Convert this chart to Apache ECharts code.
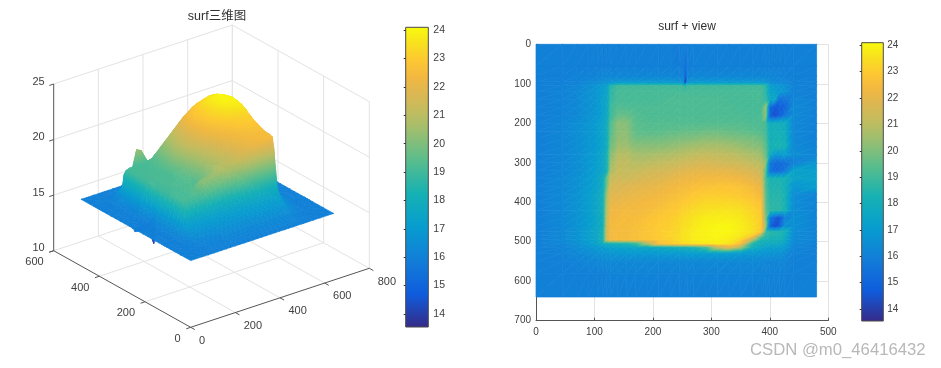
<!DOCTYPE html>
<html>
<head>
<meta charset="utf-8">
<style>
  html, body { margin: 0; padding: 0; background: #fff; }
  #box1 { width: 941px; height: 368px; }
</style>
<script src="https://cdn.jsdelivr.net/npm/echarts@6/dist/echarts.min.js"></script>
</head>
<body>
<div id="box1"></div>
<script>
// cell edges (image columns / rows)
var colEdges = [0,30,60,80,100,110,118,124,130,150,160,180,200,220,240,250,253,257,260,280,300,320,340,360,380,390,396,404,412,420,430,450,480];
var rowEdges = [0,40,70,90,100,110,130,150,170,190,210,230,250,270,290,310,330,350,370,390,410,430,450,470,480,490,500,510,520,540,560,600,640];

// temperature per cell, one line per row
var temps = [
  [16,16,16,16,16,16,16,16, 16,16,16,16,16,16,15.8, 16,16,16, 16,16,16,16,16,16,16, 16,16,16,16,16,16,16],
  [16,16,16,16,16,16,16,16, 16,16,16,16,16,16,15.9, 15.9,15.4,15.9, 16,16,16,16,16,16,16, 16,16,16,16,16,16,16],
  [16,16,16.1,16.1,16.1,16.2,16.2,16.2, 16.2,16.2,16.2,16.2,16.2,16.2,16.1, 16.1,15,16.1, 16.2,16.2,16.2,16.2,16.2,16.2,16.2, 16.2,16.2,16.2,16.1,16.1,16,16],
  [16,16,16.1,16.3,16.4,16.5,16.6,16.7, 16.8,16.8,16.8,16.8,16.8,16.8,16.7, 16.6,14,16.6, 16.8,16.8,16.8,16.8,16.8,16.8,16.8, 16.6,16.4,16.3,16.2,16.2,16,16],
  [16,16.1,16.2,16.5,16.8,17,17.3,18.4, 19,19,19,19,19,19,19, 18.9,18.6,18.9, 19,19,19,19,19,19,19, 18.6,17.2,17,16.8,16.6,16.1,16],
  [16,16.1,16.3,16.6,16.9,17.1,17.4,18.6, 19.1,19.1,19.1,19.1,19.1,19.1,19.1, 19.1,19.1,19.1, 19.1,19.1,19.1,19.1,19.1,19.1,19.1, 18.6,17.4,17.2,17,16.8,16.1,16],
  [16,16.1,16.3,16.6,16.9,17.2,17.5,18.7, 19.1,19.1,19.1,19.1,19.1,19.2,19.2, 19.2,19.2,19.2, 19.2,19.2,19.2,19.1,19.1,19.1,19.1, 18.8,17.6,17.6,15.4,15.6,16.2,16],
  [16,16.1,16.3,16.6,16.9,17.2,17.6,18.9, 19.3,19.2,19.2,19.2,19.2,19.2,19.2, 19.2,19.2,19.2, 19.2,19.2,19.2,19.2,19.1,19.1,19.1, 20.4,15.2,14.6,14.8,15,16.4,16],
  [16,16.1,16.3,16.6,16.9,17.2,17.6,18.9, 19.6,19.6,19.3,19.2,19.2,19.2,19.2, 19.2,19.2,19.2, 19.2,19.2,19.2,19.2,19.2,19.1,19.2, 20.2,15,14.4,14.8,15.6,16.4,16],
  [16,16.2,16.5,16.8,17.1,17.4,17.9,19.2, 20.2,20.1,19.4,19.3,19.3,19.3,19.3, 19.3,19.3,19.3, 19.3,19.3,19.3,19.3,19.3,19.2,19.2, 19,17.9,18,18,17.9,16.3,16],
  [16,16.2,16.5,16.8,17.1,17.4,17.9,19.3, 20.2,20.2,19.5,19.4,19.4,19.5,19.5, 19.6,19.6,19.6, 19.6,19.7,19.7,19.6,19.5,19.4,19.3, 19,18,18.1,18.1,18,16.3,16],
  [16,16.2,16.5,16.8,17.1,17.4,17.9,19.5, 20.3,20.3,19.8,19.8,19.8,19.9,20, 20,20,20, 20.1,20.2,20.2,20.1,20,19.9,19.7, 19.2,18.1,18.2,18.2,18.1,16.3,16],
  [16,16.2,16.5,16.8,17.1,17.4,17.9,19.7, 20.5,20.5,20.2,20.2,20.2,20.3,20.4, 20.5,20.5,20.5, 20.6,20.7,20.7,20.6,20.4,20.2,20.1, 19.4,18.2,18.3,18.3,18.2,16.4,16.1],
  [16,16.2,16.5,16.9,17.2,17.5,18.2,20, 20.9,20.9,20.6,20.6,20.7,20.8,20.9, 21,21,21, 21.1,21.2,21.1,21.1,20.9,20.7,20.5, 19.6,17.8,17,16.8,17.2,16.5,16.2],
  [16,16.2,16.5,16.9,17.2,17.5,18.2,20.3, 21.1,21.1,20.9,21,21.1,21.2,21.3, 21.4,21.4,21.4, 21.5,21.6,21.5,21.4,21.3,21.1,20.9, 20.2,15.8,15.3,15.2,15.4,16,16.8],
  [16,16.2,16.5,16.9,17.2,17.5,18.2,20.6, 21.2,21.2,21.2,21.4,21.5,21.6,21.8, 21.9,21.9,21.9, 22,22,22,22,21.8,21.6,21.3, 19.4,15.6,15.1,15.2,15.6,17.3,17.2],
  [16,16.3,16.6,17,17.4,17.8,19.6,21.2, 21.4,21.4,21.5,21.7,21.8,22,22.1, 22.2,22.2,22.2, 22.3,22.4,22.4,22.4,22.3,22,21.7, 19.2,18.3,18.3,18.3,18.2,17.4,17.3],
  [16,16.3,16.6,17,17.4,17.8,19.8,21.6, 21.7,21.8,21.9,22,22.1,22.3,22.4, 22.5,22.5,22.5, 22.6,22.7,22.8,22.8,22.7,22.5,22.1, 19.2,18.4,18.4,18.4,18.2,16.8,17.2],
  [16,16.3,16.7,17.1,17.6,18,20.5,21.8, 21.9,22,22.1,22.2,22.3,22.5,22.6, 22.7,22.7,22.7, 22.9,23,23,23,22.9,22.7,22.4, 19.4,18.5,18.5,18.5,18.3,16.5,16.1],
  [16,16.3,16.7,17.1,17.6,18,20.8,22, 22.1,22.2,22.3,22.4,22.5,22.7,22.8, 23,23,23, 23.1,23.3,23.3,23.3,23.2,23,22.7, 19.4,18.6,18.6,18.6,18.3,16.5,16.1],
  [16,16.3,16.7,17.1,17.6,18,21,22.2, 22.3,22.4,22.4,22.5,22.7,22.9,23, 23.2,23.2,23.2, 23.4,23.5,23.6,23.6,23.5,23.2,22.9, 19.5,18.7,18.6,18.6,18.3,16.5,16.1],
  [16,16.3,16.7,17.1,17.6,18,21.2,22.3, 22.4,22.5,22.5,22.7,22.9,23,23.2, 23.4,23.4,23.4, 23.6,23.8,23.8,23.8,23.7,23.4,23, 20,15.8,15,14.5,16,16.6,16.1],
  [16,16.3,16.7,17.1,17.6,18,21.4,22.4, 22.5,22.5,22.6,22.8,23,23.1,23.3, 23.5,23.5,23.5, 23.7,23.9,24,24,23.8,23.5,23, 20.5,15.2,14.4,14.8,16.6,16.6,16.1],
  [16,16.3,16.7,17.2,17.6,18.2,21.5,22.4, 22.5,22.5,22.6,22.8,23,23.2,23.3, 23.6,23.6,23.6, 23.8,23.9,24,24,23.8,23.5,22.8, 19,18.6,18.5,18.4,18.2,16.5,16.1],
  [16,16.3,16.7,17.2,17.6,18.2,21.5,22.4, 22.5,22.5,22.6,22.8,23,23.2,23.4, 23.6,23.6,23.6, 23.8,23.9,24,23.9,23.7,23,20, 18.6,18.4,18.3,18.3,18,16.4,16.1],
  [16,16.3,16.7,17.2,17.6,18.2,21.5,22.4, 22.5,22.5,22.6,22.8,23,23.1,23.4, 23.6,23.6,23.6, 23.8,23.9,23.9,23.8,23.3,21,18.4, 18.3,18.2,18.2,18.1,17.8,16.4,16.1],
  [16,16.2,16.6,17,17.4,17.7,17.9,18, 18.2,18.3,18.8,20.7,22.6,23,23.2, 23.4,23.4,23.4, 23.6,23.7,23.8,23.6,22.6,18.6,18, 17.8,17.8,17.7,17.7,17.4,16.3,16],
  [16,16.1,16.4,16.7,16.9,17,17.2,17.3, 17.4,17.4,17.5,17.5,17.6,17.8,18, 18,18,18, 18.3,19,21,21.8,20.5,18,17.6, 17.3,17.2,17.2,17.1,17,16.2,16],
  [16,16.1,16.3,16.4,16.6,16.7,16.7,16.8, 16.8,16.9,16.9,16.9,17,17,17, 17.1,17.1,17.1, 17.1,17.1,17.1,17.1,17,16.9,16.8, 16.7,16.7,16.7,16.6,16.5,16.1,16],
  [16,16,16.1,16.2,16.2,16.3,16.3,16.3, 16.3,16.3,16.3,16.3,16.3,16.3,16.3, 16.3,16.3,16.3, 16.3,16.3,16.3,16.3,16.3,16.3,16.3, 16.2,16.2,16.2,16.2,16.2,16,16],
  [16,16,16,16,16,16,16.1,16.1, 16.1,16.1,16.1,16.1,16.1,16.1,16.1, 16.1,16.1,16.1, 16.1,16.1,16.1,16.1,16.1,16.1,16.1, 16.1,16.1,16.1,16.1,16.1,16,16],
  [16,16,16,16,16,16,16,16, 16,16,16,16,16,16,16, 16,16,16, 16,16,16,16,16,16,16, 16,16,16,16,16,16,16]
];

var xTicks3d = [0,200,400,600,800];
var yTicks3d = [0,200,400,600];
var zTicks3d = [10,15,20,25];
var colorbarTicks = [14,15,16,17,18,19,20,21,22,23,24];
var colorbarRange = [13.54,24.1];
var parula = ['#352a87','#2343b2','#0f5cdd','#116dda','#127dd8','#0d8dd4','#079ccf','#0ea7c2','#15b1b4','#37b7a0','#59bd8c','#7fbe7c','#a5be6b','#c4bc5e','#dcb752','#f2b840','#fdc832','#f8e01f','#f9fb0e'];

var textColor = '#404040';
var gridColor = '#e3e3e3';
var axisColor = '#555';
var fontName = '"Liberation Sans","Noto Sans CJK SC",sans-serif';

var chart = echarts.init(document.getElementById('box1'), null, { renderer: 'canvas' });

function colorOf(v) {
  return echarts.color.lerp((v - colorbarRange[0]) / (colorbarRange[1] - colorbarRange[0]), parula);
}

// oblique view of the 3d box, result is in the overlay axes (page pixels)
function project(x, y, z) {
  return [
    190.7 + x * 178.6 / 800 - y * 137 / 600,
    327.3 - x * 59 / 800 - y * 76.6 / 600 - (z - 10) * 166.7 / 15
  ];
}

// surface nodes sit in the middle of each cell, the outer ones on the image border
function nodes(edges) {
  var out = [];
  for (var i = 0; i < edges.length - 1; i++) {
    out.push(i === 0 ? edges[0] : i === edges.length - 2 ? edges[i + 1] : (edges[i] + edges[i + 1]) / 2);
  }
  return out;
}
var nodeRow = nodes(rowEdges);
var nodeCol = nodes(colEdges);

// far cells first so the near ones paint over them
var surfCells = [];
for (var r = nodeRow.length - 2; r >= 0; r--) {
  for (var c = nodeCol.length - 2; c >= 0; c--) {
    surfCells.push([r, c]);
  }
}

// one triangle of the surface, coloured like matlab's shading interp
function shadedTriangle(p0, z0, p1, z1, p2, z2) {
  var v = [[p0, z0], [p1, z1], [p2, z2]].sort(function(a, b) { return a[1] - b[1]; });
  var a = v[0][0], b = v[1][0], c = v[2][0];
  var za = v[0][1], zb = v[1][1], zc = v[2][1];
  var fill = colorOf((za + zb + zc) / 3);
  if (zc - za > 0.03) {
    var t = (zb - za) / (zc - za);
    var ix = b[0] - (a[0] + t * (c[0] - a[0]));
    var iy = b[1] - (a[1] + t * (c[1] - a[1]));
    var len = Math.sqrt(ix * ix + iy * iy);
    var nx, ny;
    if (len < 0.01) {
      nx = c[0] - a[0]; ny = c[1] - a[1];
      len = Math.sqrt(nx * nx + ny * ny) || 1;
      nx /= len; ny /= len;
    } else {
      nx = -iy / len; ny = ix / len;
    }
    var g = (c[0] - a[0]) * nx + (c[1] - a[1]) * ny;
    if (Math.abs(g) > 0.01) {
      var stops = [];
      for (var k = 0; k <= 6; k++) {
        stops.push({ offset: k / 6, color: colorOf(za + (zc - za) * k / 6) });
      }
      fill = new echarts.graphic.LinearGradient(a[0], a[1], a[0] + nx * g, a[1] + ny * g, stops, true);
    }
  }
  return { type: 'polygon', shape: { points: [p0, p1, p2] }, style: { fill: fill, stroke: fill, lineWidth: 0.7 } };
}

function surfaceItem(toPoint) {
  return function(params, api) {
    var r = api.value(0), c = api.value(1);
    var p00 = toPoint(api, r, c), p10 = toPoint(api, r + 1, c);
    var p11 = toPoint(api, r + 1, c + 1), p01 = toPoint(api, r, c + 1);
    var z00 = temps[r][c], z10 = temps[r + 1][c], z11 = temps[r + 1][c + 1], z01 = temps[r][c + 1];
    return {
      type: 'group',
      children: [
        shadedTriangle(p11, z11, p10, z10, p01, z01),
        shadedTriangle(p10, z10, p00, z00, p01, z01)
      ]
    };
  };
}

// box lines: [x1,y1,z1,x2,y2,z2]
var x3max = xTicks3d[xTicks3d.length - 1], y3max = yTicks3d[yTicks3d.length - 1];
var z3min = zTicks3d[0], z3max = zTicks3d[zTicks3d.length - 1];
var gridLines = [], axisLines = [];
xTicks3d.forEach(function(x) {
  if (x > 0) {
    gridLines.push([x, 0, z3min, x, y3max, z3min]);
    gridLines.push([x, y3max, z3min, x, y3max, z3max]);
  }
  axisLines.push([x, 0, z3min, x, -18, z3min]);
});
yTicks3d.forEach(function(y) {
  if (y > 0) gridLines.push([0, y, z3min, x3max, y, z3min]);
  gridLines.push([x3max, y, z3min, x3max, y, z3max]);
  axisLines.push([0, y, z3min, -20, y, z3min]);
});
zTicks3d.forEach(function(z) {
  if (z > z3min) {
    gridLines.push([0, y3max, z, x3max, y3max, z]);
    gridLines.push([x3max, 0, z, x3max, y3max, z]);
  }
  axisLines.push([0, y3max, z, -20, y3max, z]);
});
axisLines.push([0, 0, z3min, x3max, 0, z3min]);
axisLines.push([0, 0, z3min, 0, y3max, z3min]);
axisLines.push([0, y3max, z3min, 0, y3max, z3max]);

function lineItem(color) {
  return function(params, api) {
    var a = api.coord(project(api.value(0), api.value(1), api.value(2)));
    var b = api.coord(project(api.value(3), api.value(4), api.value(5)));
    return {
      type: 'line',
      shape: { x1: a[0], y1: a[1], x2: b[0], y2: b[1] },
      style: { stroke: color, lineWidth: 1 }
    };
  };
}

// tick labels of the 3d box
var labels3d = [];
xTicks3d.forEach(function(x) { labels3d.push([x, 0, z3min, x, 'left', 8.4, 13.3]); });
yTicks3d.forEach(function(y) { labels3d.push([0, y, z3min, y, 'right', -10, 11.4]); });
zTicks3d.forEach(function(z) { labels3d.push([0, y3max, z, z, 'right', -9, -2.5]); });

function colorbarSeries(axisIndex) {
  return {
    type: 'custom',
    xAxisIndex: axisIndex,
    yAxisIndex: axisIndex,
    silent: true,
    data: [[0, colorbarRange[1], 1, colorbarRange[0]]],
    renderItem: function(params, api) {
      var a = api.coord([api.value(0), api.value(1)]);
      var b = api.coord([api.value(2), api.value(3)]);
      return {
        type: 'rect',
        shape: { x: a[0], y: a[1], width: b[0] - a[0], height: b[1] - a[1] },
        style: {
          stroke: '#4a4a4a',
          lineWidth: 1,
          fill: new echarts.graphic.LinearGradient(0, 1, 0, 0, parula.map(function(col, i) {
            return { offset: i / (parula.length - 1), color: col };
          }))
        }
      };
    }
  };
}

function colorbarAxis(index, fontSize, margin) {
  return {
    type: 'value',
    gridIndex: index,
    position: 'right',
    min: colorbarRange[0],
    max: colorbarRange[1],
    z: 5,
    splitLine: { show: false },
    axisLine: { show: false },
    axisTick: { inside: true, length: 2, customValues: colorbarTicks, lineStyle: { color: '#333' } },
    axisLabel: { customValues: colorbarTicks, color: textColor, fontSize: fontSize, fontFamily: fontName, margin: margin }
  };
}

function hiddenAxis(index) {
  return { type: 'value', gridIndex: index, min: 0, max: 1, show: false };
}

var option = {
  animation: false,
  backgroundColor: '#fff',
  title: [
    { text: 'surf三维图', left: 212, top: 5, textAlign: 'center',
      textStyle: { fontSize: 12.5, fontWeight: 'normal', color: '#303030', fontFamily: fontName } },
    { text: 'surf + view', left: 682, top: 16, textAlign: 'center',
      textStyle: { fontSize: 12, fontWeight: 'normal', color: '#303030', fontFamily: fontName } },
    { text: 'CSDN @m0_46416432', left: 745, top: 337,
      textStyle: { fontSize: 16.7, fontWeight: 'normal', color: '#b8b8b8', fontFamily: fontName } }
  ],
  grid: [
    { left: 0, top: 0, width: 941, height: 368 },
    { left: 536, top: 44.3, width: 292.3, height: 276.4 },
    { left: 405.7, top: 27.3, width: 22.6, height: 299.7 },
    { left: 861.7, top: 42.7, width: 21.6, height: 278.3 }
  ],
  xAxis: [
    { type: 'value', gridIndex: 0, min: 0, max: 941, show: false },
    {
      type: 'value', gridIndex: 1, min: 0, max: 500, interval: 100, position: 'bottom',
      splitLine: { show: true, lineStyle: { color: gridColor } },
      axisLine: { onZero: false, lineStyle: { color: axisColor } },
      axisTick: { inside: true, length: 3, lineStyle: { color: axisColor } },
      axisLabel: { color: textColor, fontSize: 10, fontFamily: fontName, margin: 7 }
    },
    hiddenAxis(2),
    hiddenAxis(3)
  ],
  yAxis: [
    { type: 'value', gridIndex: 0, min: 0, max: 368, inverse: true, show: false },
    {
      type: 'value', gridIndex: 1, min: 0, max: 700, interval: 100, inverse: true,
      splitLine: { show: true, lineStyle: { color: gridColor } },
      axisLine: { show: true, onZero: false, lineStyle: { color: axisColor } },
      axisTick: { show: true, inside: true, length: 3, lineStyle: { color: axisColor } },
      axisLabel: { color: textColor, fontSize: 10, fontFamily: fontName, margin: 5 }
    },
    colorbarAxis(2, 10.5, 5),
    colorbarAxis(3, 10, 4)
  ],
  series: [
    { type: 'custom', name: 'box grid', xAxisIndex: 0, yAxisIndex: 0, silent: true, z: 1,
      data: gridLines, renderItem: lineItem(gridColor) },
    { type: 'custom', name: 'box axes', xAxisIndex: 0, yAxisIndex: 0, silent: true, z: 1,
      data: axisLines, renderItem: lineItem(axisColor) },
    {
      type: 'custom', name: 'box labels', xAxisIndex: 0, yAxisIndex: 0, silent: true, z: 1,
      data: labels3d,
      renderItem: function(params, api) {
        var d = labels3d[params.dataIndex];
        var p = api.coord(project(d[0], d[1], d[2]));
        return {
          type: 'text',
          style: {
            x: p[0] + d[5], y: p[1] + d[6], text: String(d[3]), align: d[4], verticalAlign: 'middle',
            fill: textColor, font: '11px ' + fontName
          }
        };
      }
    },
    {
      type: 'custom', name: 'surf', xAxisIndex: 0, yAxisIndex: 0, silent: true, z: 3,
      progressive: 0,
      data: surfCells,
      renderItem: surfaceItem(function(api, r, c) {
        return api.coord(project(nodeRow[r], nodeCol[c], temps[r][c]));
      })
    },
    {
      type: 'custom', name: 'surf + view', xAxisIndex: 1, yAxisIndex: 1, silent: true,
      progressive: 0,
      data: surfCells,
      renderItem: surfaceItem(function(api, r, c) {
        return api.coord([nodeCol[c], nodeRow[r]]);
      })
    },
    colorbarSeries(2),
    colorbarSeries(3)
  ]
};
chart.setOption(option);
</script>
</body>
</html>
